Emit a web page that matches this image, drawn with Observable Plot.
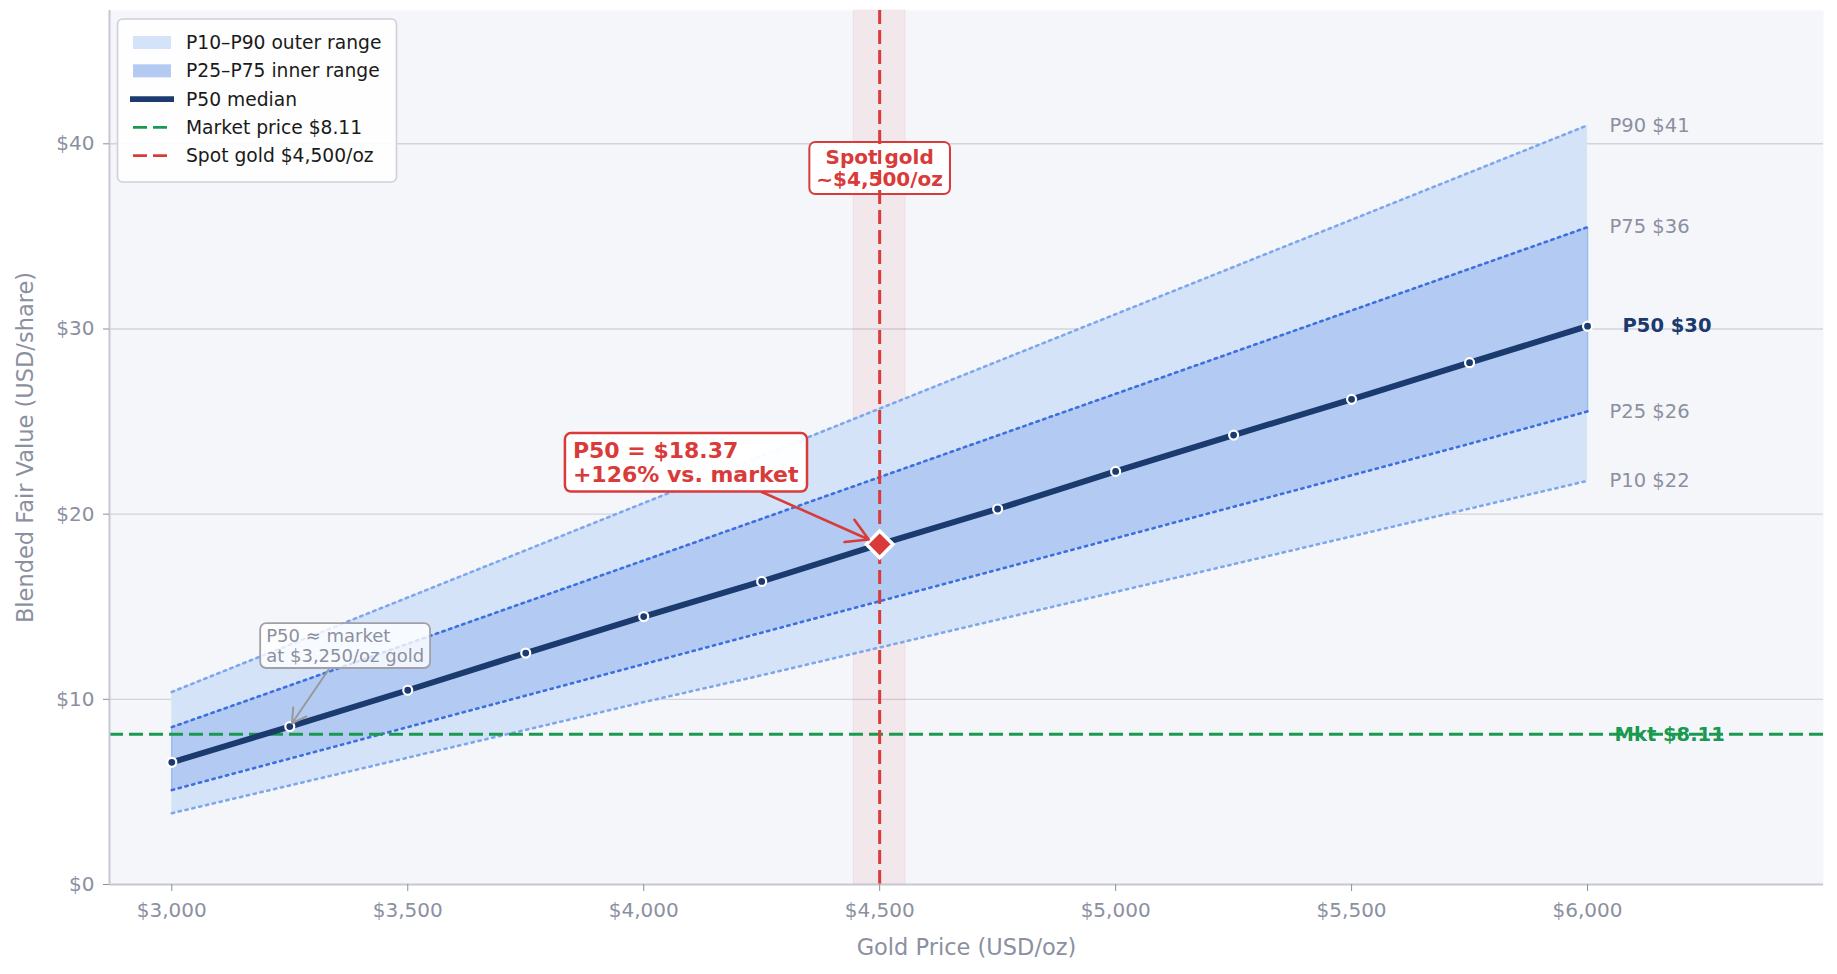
<!DOCTYPE html>
<html><head><meta charset="utf-8">
<script src="https://cdn.jsdelivr.net/npm/d3@7"></script>
<script src="https://cdn.jsdelivr.net/npm/@observablehq/plot@0.6"></script>
<style>html,body{margin:0;padding:0;background:#fff;overflow:hidden}</style>
</head><body><div id="chart"></div>
<script>
// ---- data ----
const goldPrice = [3000, 3250, 3500, 3750, 4000, 4250, 4500, 4750, 5000, 5250, 5500, 5750, 6000];
const p10 = [3.85, 5.35, 6.85, 8.35, 9.85, 11.3, 12.8, 14.3, 15.8, 17.3, 18.8, 20.3, 21.8];
const p25 = [5.1, 6.8, 8.5, 10.2, 11.9, 13.6, 15.3, 17.0, 18.7, 20.4, 22.1, 23.8, 25.55];
const p50 = [6.6, 8.53, 10.49, 12.5, 14.47, 16.37, 18.37, 20.28, 22.31, 24.27, 26.2, 28.18, 30.15];
const p75 = [8.5, 10.75, 13.0, 15.25, 17.5, 19.75, 22.0, 24.25, 26.5, 28.75, 31.0, 33.25, 35.5];
const p90 = [10.4, 12.95, 15.5, 18.05, 20.6, 23.15, 25.7, 28.25, 30.8, 33.35, 35.9, 38.45, 41.0];
const marketPrice = 8.11;
const spotGold = 4500;
const spotBand = [4445, 4555];
const spotP50 = 18.37;
const xTicks = [3000, 3500, 4000, 4500, 5000, 5500, 6000];
const yTicks = [0, 10, 20, 30, 40];
const xDomain = [2868, 6500];
const yDomain = [0, 47.2];
const xTitle = "Gold Price (USD/oz)";
const yTitle = "Blended Fair Value (USD/share)";
const legendLabels = ["P10–P90 outer range", "P25–P75 inner range", "P50 median", "Market price $8.11", "Spot gold $4,500/oz"];
const spotNote = {text: "Spot gold\n~$4,500/oz", x: 4500, y: 38.7};
const mainNote = {text: "P50 = $18.37\n+126% vs. market", x: 3850, y: 22.8, ax: 4250, ay: 21.2};
const crossNote = {text: "P50 ≈ market\nat $3,250/oz gold", x: 3200, y: 12.9, ax: 3332, ay: 11.6, tx: 3250, ty: 8.53};

// ---- style ----
const C = {
  bg: "#f5f6fa", grid: "#d2d3dc", spine: "#c6c7d3", tick: "#8b90a0",
  outer: "#d4e3f8", inner: "#b3cbf2", outerLine: "#7fa7ee", innerLine: "#3c6fe0",
  navy: "#1b3a6e", red: "#d93a3a", green: "#1a9a50", grayText: "#8b90a0"
};

const rows = goldPrice.map((g, i) => ({gold: g, p10: p10[i], p25: p25[i], p50: p50[i], p75: p75[i], p90: p90[i]}));
const first = rows[0];
const last = rows[rows.length - 1];
const endLabels = [
  {name: "P90", v: last.p90}, {name: "P75", v: last.p75},
  {name: "P25", v: last.p25}, {name: "P10", v: last.p10}
];
const dotted = {strokeWidth: 2.6, strokeDasharray: "2.4,4.6"};

const plot = Plot.plot({
  width: 1837, height: 974,
  marginLeft: 109, marginRight: 14, marginTop: 10, marginBottom: 90,
  x: {domain: xDomain, label: null},
  y: {domain: yDomain, label: null},
  style: {fontFamily: "DejaVu Sans", fontSize: "20px", background: "#fff", overflow: "visible"},
  marks: [
    Plot.frame({fill: C.bg, stroke: "none"}),
    Plot.gridY(yTicks.filter(d => d > 0), {stroke: C.grid, strokeOpacity: 1, strokeWidth: 1.4}),
    Plot.rect([spotBand], {x1: d => d[0], x2: d => d[1], fill: C.red, fillOpacity: 0.08, stroke: C.red, strokeOpacity: 0.08}),
    Plot.areaY(rows, {x: "gold", y1: "p10", y2: "p90", fill: C.outer}),
    Plot.areaY(rows, {x: "gold", y1: "p25", y2: "p75", fill: C.inner}),
    Plot.ruleX([first, last], {x: "gold", y1: "p25", y2: "p75", stroke: "#9fbaf0", strokeWidth: 1.5}),
    Plot.lineY(rows, {x: "gold", y: "p90", stroke: C.outerLine, ...dotted}),
    Plot.lineY(rows, {x: "gold", y: "p10", stroke: C.outerLine, ...dotted}),
    Plot.lineY(rows, {x: "gold", y: "p75", stroke: C.innerLine, ...dotted}),
    Plot.lineY(rows, {x: "gold", y: "p25", stroke: C.innerLine, ...dotted}),
    Plot.ruleY([marketPrice], {stroke: C.green, strokeWidth: 3, strokeDasharray: "14,6"}),
    Plot.text([spotNote], {x: "x", y: "y", text: "text", fill: C.red, fontWeight: "bold", fontSize: 20,
      textAnchor: "middle", lineAnchor: "middle", lineHeight: 1.11}),
    Plot.ruleX([spotGold], {stroke: C.red, strokeWidth: 3, strokeDasharray: "14,6"}),
    Plot.lineY(rows, {x: "gold", y: "p50", stroke: C.navy, strokeWidth: 6}),
    Plot.dot(rows, {x: "gold", y: "p50", r: 4.5, fill: C.navy, stroke: "#fff", strokeWidth: 2.2}),
    Plot.dot([{x: spotGold, y: spotP50}], {x: "x", y: "y", symbol: "diamond2", r: 12, fill: C.red, stroke: "#fff", strokeWidth: 3.5}),
    Plot.arrow([mainNote], {x1: "ax", y1: "ay", x2: () => spotGold, y2: () => spotP50, stroke: C.red, strokeWidth: 2.6, headLength: 14, insetEnd: 12}),
    Plot.arrow([crossNote], {x1: "ax", y1: "ay", x2: "tx", y2: "ty", stroke: "#999", strokeWidth: 2, headLength: 12, insetEnd: 4}),
    Plot.text([mainNote], {x: "x", y: "y", text: "text", fill: C.red, fontWeight: "bold", fontSize: 22,
      textAnchor: "start", lineAnchor: "middle", lineHeight: 1.07}),
    Plot.text([crossNote], {x: "x", y: "y", text: "text", fill: C.grayText, fontSize: 18,
      textAnchor: "start", lineAnchor: "middle", lineHeight: 1.11}),
    Plot.text(endLabels, {x: () => last.gold, y: "v", text: d => `${d.name} $${Math.round(d.v)}`,
      fill: C.grayText, fontSize: 19.5, textAnchor: "start", dx: 22}),
    Plot.text([last], {x: "gold", y: "p50", text: d => `P50 $${Math.round(d.p50)}`,
      fill: C.navy, fontWeight: "bold", fontSize: 19.5, textAnchor: "start", dx: 35}),
    Plot.text([marketPrice], {x: () => last.gold, y: d => d, text: d => `Mkt $${d}`,
      fill: C.green, fontWeight: "bold", fontSize: 19.5, textAnchor: "start", dx: 27}),
    Plot.ruleX([xDomain[0]], {stroke: C.spine, strokeWidth: 2}),
    Plot.ruleY([yDomain[0]], {stroke: C.spine, strokeWidth: 2}),
    Plot.axisX(xTicks, {tickFormat: d3.format("$,"), tickSize: 7, tickPadding: 11, fontSize: 20, color: C.tick, label: null}),
    Plot.axisY(yTicks, {tickFormat: d => "$" + d, tickSize: 6, tickPadding: 9, fontSize: 20, color: C.tick, label: null}),
    Plot.text([xTitle], {text: d => d, frameAnchor: "bottom", dy: 63, fontSize: 22.5, fill: C.grayText, lineAnchor: "middle", textAnchor: "middle"}),
    Plot.text([yTitle], {text: d => d, frameAnchor: "left", rotate: -90, dx: -84, fontSize: 22.5, fill: C.grayText, lineAnchor: "middle", textAnchor: "middle"})
  ]
});

document.getElementById("chart").append(plot);

// ---- boxes behind annotation text ----
const NS = "http://www.w3.org/2000/svg";
const svgBox = plot.getBoundingClientRect();
function boxAround(prefix, padX, padY, stroke, sw, fillOpacity) {
  const t = Array.from(plot.querySelectorAll("text")).find(el => el.textContent.startsWith(prefix));
  if (!t) return;
  const r = t.getBoundingClientRect();
  const rect = document.createElementNS(NS, "rect");
  rect.setAttribute("x", r.left - svgBox.left - padX);
  rect.setAttribute("y", r.top - svgBox.top - padY);
  rect.setAttribute("width", r.width + 2 * padX);
  rect.setAttribute("height", r.height + 2 * padY);
  rect.setAttribute("rx", 6);
  rect.setAttribute("fill", "#fff");
  rect.setAttribute("fill-opacity", fillOpacity);
  rect.setAttribute("stroke", stroke);
  rect.setAttribute("stroke-width", sw);
  const g = t.closest("svg > g") || t.parentNode;
  g.parentNode.insertBefore(rect, g);
}
boxAround(mainNote.text.split("\n")[0], 8, 5, C.red, 2.5, 0.95);
boxAround(spotNote.text.split("\n")[0], 7, 3, C.red, 2, 0.95);
boxAround(crossNote.text.split("\n")[0], 6, 2, "#a0a0a8", 1.8, 0.8);

// ---- legend ----
const svg = d3.select(plot);
const lg = svg.append("g").attr("font-family", "DejaVu Sans").attr("font-size", 18.7).attr("text-anchor", "start");
lg.append("rect").attr("x", 117.5).attr("y", 19).attr("width", 279).attr("height", 163).attr("rx", 5)
  .attr("fill", "#fff").attr("fill-opacity", 0.9).attr("stroke", "#cfd0da").attr("stroke-width", 1.6);
const rowY = i => 42.5 + i * 28.3;
lg.append("rect").attr("x", 133).attr("y", rowY(0) - 6.5).attr("width", 38).attr("height", 13).attr("fill", C.outer);
lg.append("rect").attr("x", 133).attr("y", rowY(1) - 6.5).attr("width", 38).attr("height", 13).attr("fill", C.inner);
lg.append("line").attr("x1", 130).attr("x2", 174).attr("y1", rowY(2)).attr("y2", rowY(2)).attr("stroke", C.navy).attr("stroke-width", 5.7);
lg.append("line").attr("x1", 133).attr("x2", 171).attr("y1", rowY(3)).attr("y2", rowY(3)).attr("stroke", C.green).attr("stroke-width", 2.8).attr("stroke-dasharray", "14,6");
lg.append("line").attr("x1", 133).attr("x2", 171).attr("y1", rowY(4)).attr("y2", rowY(4)).attr("stroke", C.red).attr("stroke-width", 2.8).attr("stroke-dasharray", "14,6");
legendLabels.forEach((t, i) => {
  lg.append("text").attr("x", 186).attr("y", rowY(i)).attr("dominant-baseline", "central").attr("text-anchor", "start").attr("fill", "#1a1a1a").text(t);
});
</script>
</body></html>
